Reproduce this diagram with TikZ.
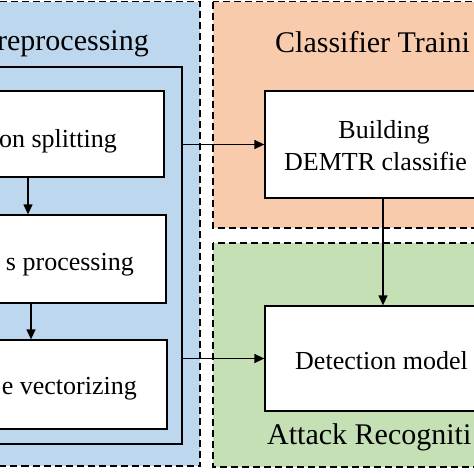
\documentclass[tikz,border=0pt]{standalone}
\usepackage{fontspec}
\setmainfont{Liberation Serif}
\usetikzlibrary{arrows.meta, positioning}
\definecolor{PrepColor}{RGB}{189,215,238}
\definecolor{TrainColor}{RGB}{248,203,173}
\definecolor{RecogColor}{RGB}{197,224,180}
\tikzstyle{region} = [line width=1.5pt, dash pattern=on 7pt off 4pt]
\tikzstyle{stagebox} = [draw, line width=1.3pt, fill=white, inner sep=0pt]
\tikzstyle{arrow} = [line width=1.3pt, -{Triangle[length=10pt,width=9pt]}]
\tikzstyle{boxtext} = [font=\fontsize{26}{30}\selectfont, inner sep=0pt]
\tikzstyle{title} = [font=\fontsize{30}{34}\selectfont, inner sep=0pt]

\begin{document}
\begin{tikzpicture}[x=1pt, y=-1pt]
    \useasboundingbox (0,0) rectangle (474,474);
    \clip (0,0) rectangle (474,474);

    % Regions
    \draw[region, fill=PrepColor] (-20,1.5) rectangle (200,466);
    \draw[region, fill=TrainColor] (213,1.5) rectangle (490,228);
    \draw[region, fill=RecogColor] (213,243) rectangle (490,467);

    % Preprocessing
    \node[title, anchor=base east] (preptitle) at (149,50) {reprocessing};
    \node[draw, line width=1.5pt, minimum width=242pt, minimum height=377pt] (pre) at (61,255.5) {};
    \node[stagebox, minimum width=224pt, minimum height=86pt] (split) at (52,134) {};
    \node[boxtext, anchor=base east] (splittxt) at (117,147) {on splitting};
    \node[stagebox, minimum width=226pt, minimum height=88pt] (proc) at (53,259) {};
    \node[boxtext, anchor=base east] (proctxt) at (134,270) {s processing};
    \node[stagebox, minimum width=227pt, minimum height=89pt] (vect) at (53.5,384.5) {};
    \node[boxtext, anchor=base east] (vecttxt) at (137,394) {e vectorizing};

    \coordinate (a1) at (28,0);
    \coordinate (a2) at (31,0);
    \draw[arrow] (split.south -| a1) -- (proc.north -| a1);
    \draw[arrow] (proc.south -| a2) -- (vect.north -| a2);

    % Classifier training
    \node[title, anchor=base west] (traintitle) at (275,52) {Classifier Traini};
    \node[stagebox, minimum width=238pt, minimum height=107pt] (build) at (384,144.5) {};
    \node[boxtext, anchor=base] (buildtxt) at (384,138) {Building};
    \node[boxtext, anchor=base west] (demtrtxt) at (284,170) {DEMTR classifie};

    % Attack recognition
    \node[title, anchor=base west] (recogtitle) at (267,444) {Attack Recogniti};
    \node[stagebox, minimum width=233pt, minimum height=105pt] (detect) at (381.5,358.5) {};
    \node[boxtext, anchor=base] (detecttxt) at (381.5,369) {Detection model};

    % Connections
    \draw[arrow] (pre.east |- build.west) -- (build.west);
    \draw[arrow] (pre.east |- detect.west) -- (detect.west);
    \draw[arrow] (build.south -| 383,0) -- (detect.north -| 383,0);
\end{tikzpicture}
\end{document}
